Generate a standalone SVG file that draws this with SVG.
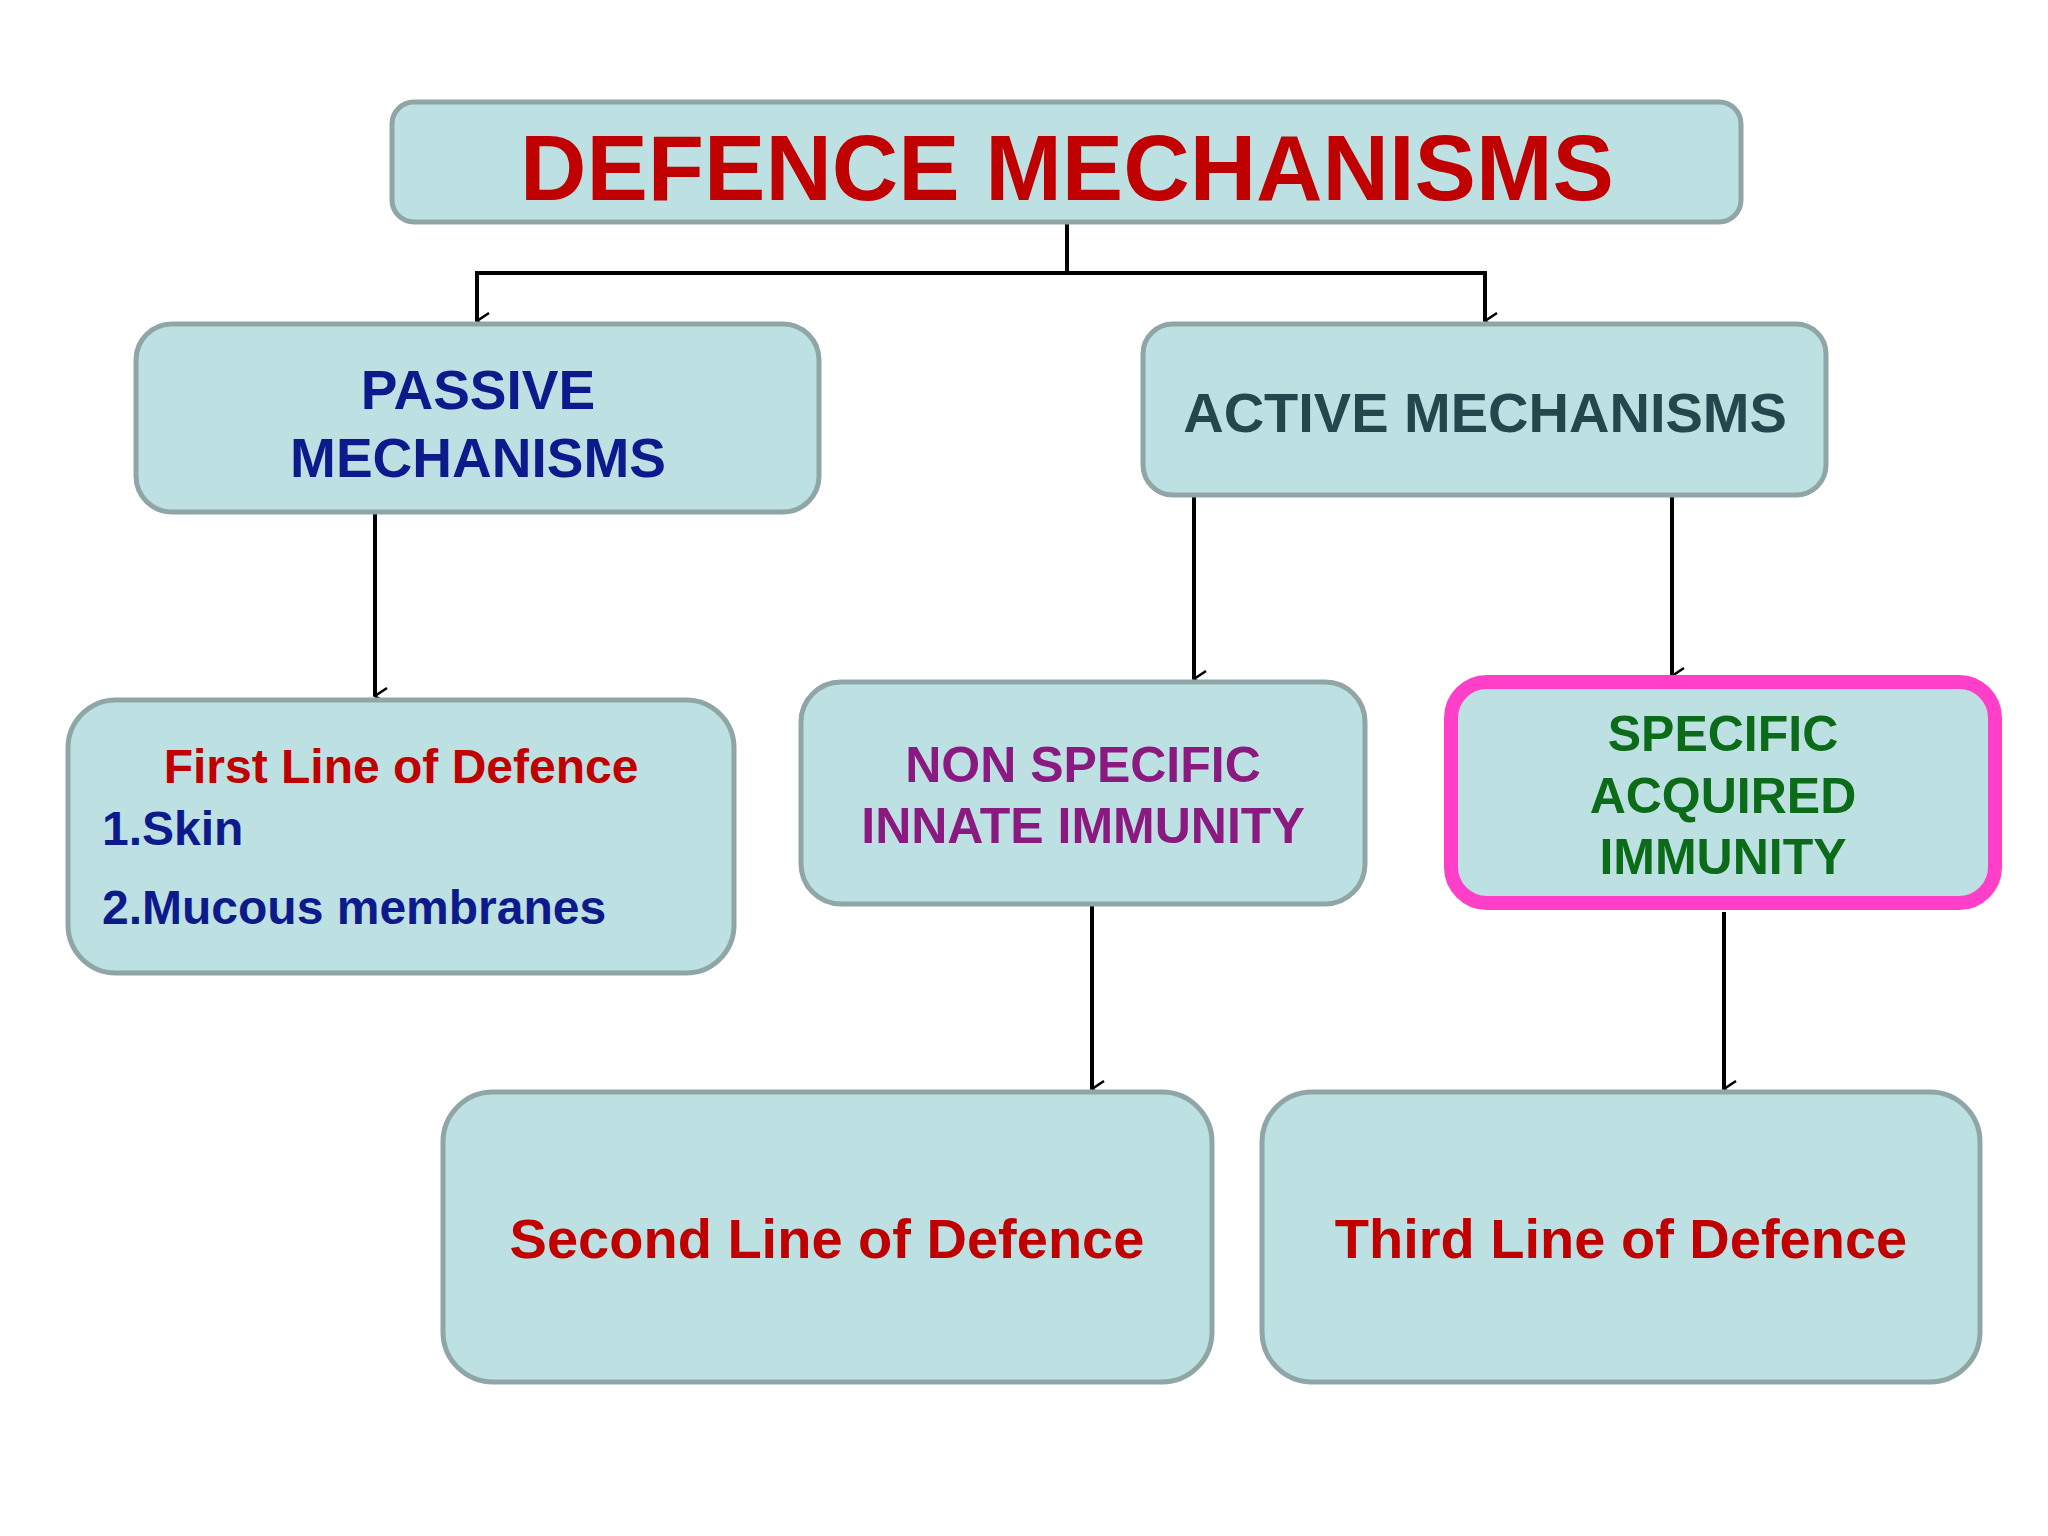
<svg xmlns="http://www.w3.org/2000/svg" width="2048" height="1536" viewBox="0 0 2048 1536">
<style>
.box{fill:#bde0e2;stroke:#8fa5a6;stroke-width:5}
.t{font-family:"Liberation Sans",Arial,sans-serif;font-weight:bold;text-anchor:middle}
.c{fill:none;stroke:#000;stroke-width:4}
</style>
<defs><marker id="a" viewBox="0 0 20 20" refX="10" refY="18" markerWidth="20" markerHeight="20" markerUnits="userSpaceOnUse" orient="auto-start-reverse"><path d="M2 6 L10 18 L18 6" fill="none" stroke="#000" stroke-width="2.5"/></marker></defs>
<rect width="2048" height="1536" fill="#fff"/>
<g id="connectors">
<path class="c" d="M1067 222 V273 M477 273 H1485" />
<path class="c" d="M477 271 V321" marker-end="url(#a)"/>
<path class="c" d="M1485 271 V321" marker-end="url(#a)"/>
<path class="c" d="M375 512 V696" marker-end="url(#a)"/>
<path class="c" d="M1194 495 V679" marker-end="url(#a)"/>
<path class="c" d="M1672 495 V676" marker-end="url(#a)"/>
<path class="c" d="M1092 904 V1089" marker-end="url(#a)"/>
<path class="c" d="M1724 912 V1089" marker-end="url(#a)"/>
</g>
<g id="title"><rect class="box" x="392" y="102" width="1349" height="120" rx="22"/><text class="t" x="1067" y="200" font-size="92" fill="#c00000">DEFENCE MECHANISMS</text></g>
<g id="passive"><rect class="box" x="136" y="324" width="683" height="188" rx="36"/><text class="t" x="478" y="409" font-size="55" fill="#0d1a8c">PASSIVE</text><text class="t" x="478" y="477" font-size="55" fill="#0d1a8c">MECHANISMS</text></g>
<g id="active"><rect class="box" x="1143" y="324" width="683" height="171" rx="30"/><text class="t" x="1485" y="432" font-size="56" fill="#24474d">ACTIVE MECHANISMS</text></g>
<g id="first"><rect class="box" x="68" y="700" width="666" height="273" rx="48"/><text class="t" x="401" y="783" font-size="48" fill="#c00000">First Line of Defence</text><text class="t" x="102" y="845" font-size="48" fill="#0d1a8c" text-anchor="start" style="text-anchor:start">1.Skin</text><text class="t" x="102" y="924" font-size="48" fill="#0d1a8c" style="text-anchor:start">2.Mucous membranes</text></g>
<g id="nonspecific"><rect class="box" x="801" y="682" width="564" height="222" rx="40"/><text class="t" x="1083" y="782" font-size="50" fill="#8b1a80">NON SPECIFIC</text><text class="t" x="1083" y="843" font-size="50" fill="#8b1a80">INNATE IMMUNITY</text></g>
<g id="specific"><rect class="box" x="1451" y="682" width="544" height="221" rx="36" style="stroke:#ff3fc8;stroke-width:14"/><text class="t" x="1723" y="751" font-size="50" fill="#0b6b18">SPECIFIC</text><text class="t" x="1723" y="813" font-size="50" fill="#0b6b18">ACQUIRED</text><text class="t" x="1723" y="874" font-size="50" fill="#0b6b18">IMMUNITY</text></g>
<g id="second"><rect class="box" x="443" y="1092" width="769" height="290" rx="50"/><text class="t" x="827" y="1258" font-size="56" fill="#c00000">Second Line of Defence</text></g>
<g id="third"><rect class="box" x="1262" y="1092" width="718" height="290" rx="50"/><text class="t" x="1621" y="1258" font-size="56" fill="#c00000">Third Line of Defence</text></g>
</svg>
